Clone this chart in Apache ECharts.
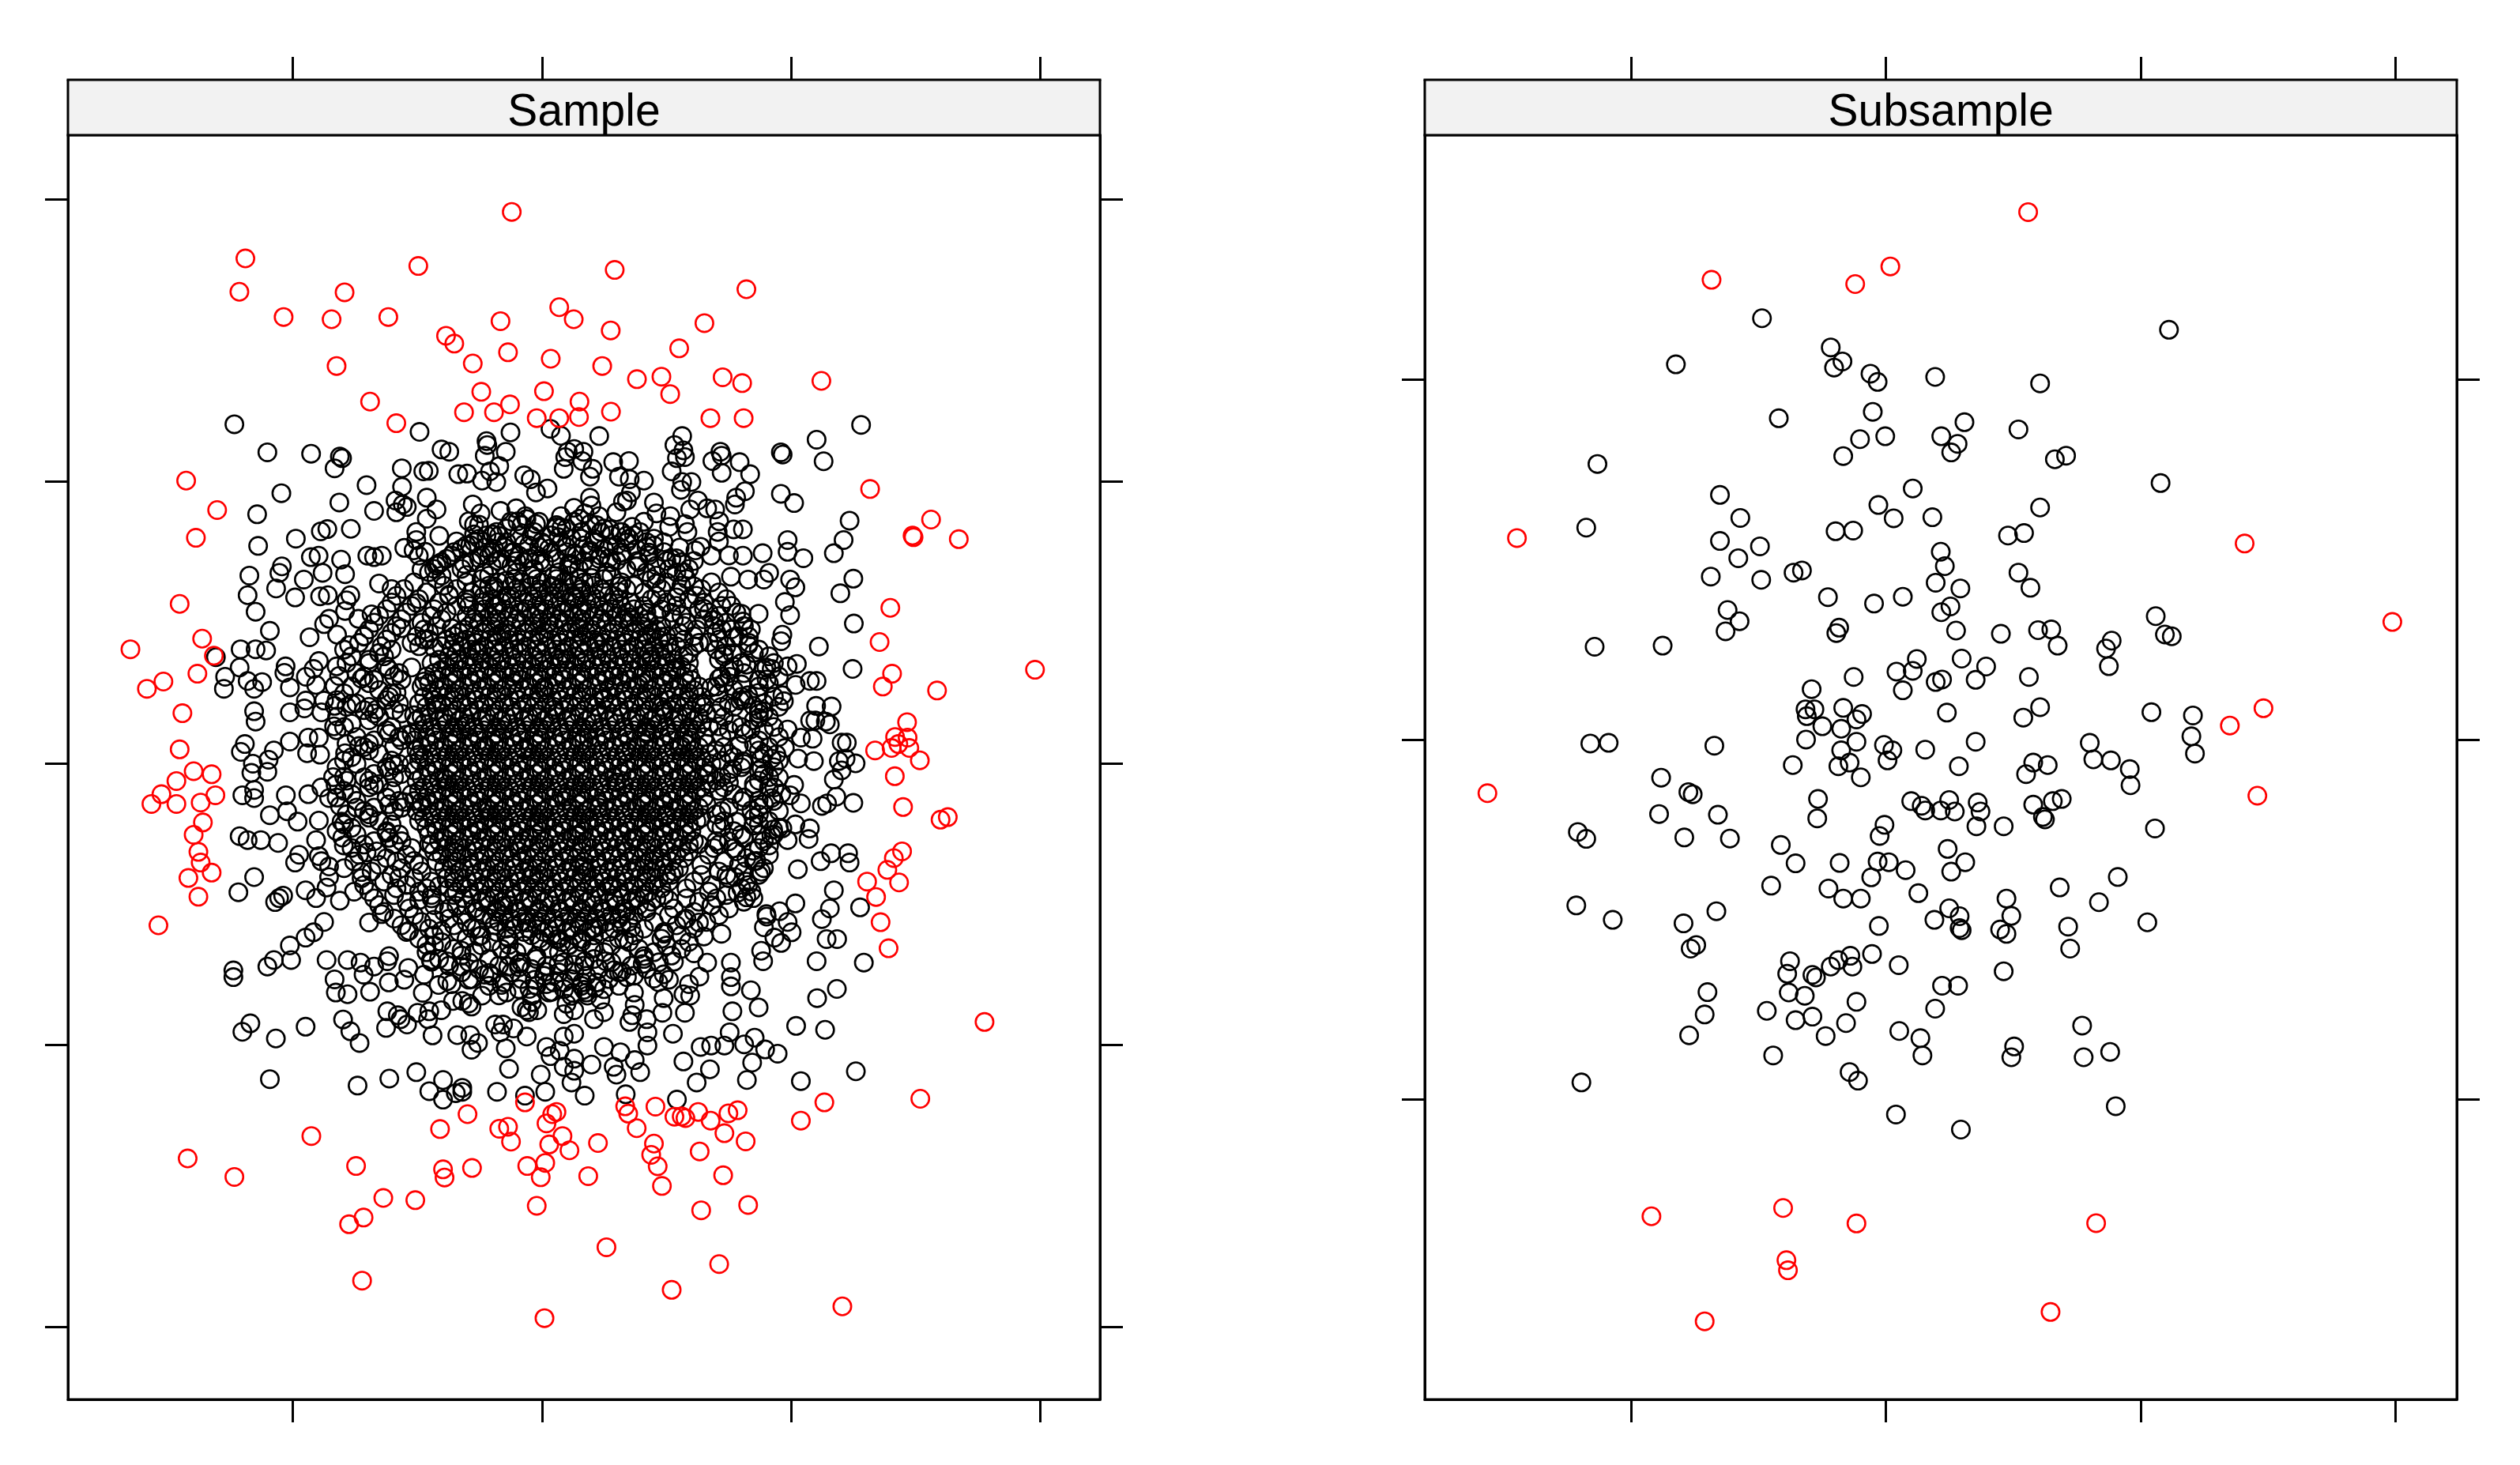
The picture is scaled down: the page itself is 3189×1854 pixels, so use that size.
<!DOCTYPE html>
<html>
<head>
<meta charset="utf-8">
<script src="https://cdn.jsdelivr.net/npm/echarts@6/dist/echarts.min.js"></script>
<style>html,body{margin:0;padding:0;background:#fff}#c{width:3189px;height:1854px}</style>
</head>
<body>
<div id="c"></div>
<script>
// tick positions (data units)
const sampleTicksX = [-1.005, -0.008, 0.989, 1.986];
const sampleTicksY = [-2.023, -1.017, -0.012, 0.994, 2];
const subTicksX = [-1, 0, 1, 2];
const subTicksY = [-1, 0, 1];

// Sample panel: points outside the ellipse (red)
const sampleOut = [
[-1.195,1.790],[-0.503,1.763],[-1.219,1.671],[-0.798,1.669],[-1.042,1.581],[-0.850,1.573],[-0.623,1.581],[-0.392,1.514],[-0.359,1.486],[-0.830,1.406],[-0.696,1.279],[-0.591,1.202],[-1.432,0.997],[-1.308,0.892],[-1.393,0.793],
[-0.129,1.956],[0.283,1.749],[0.810,1.680],[0.061,1.616],[0.119,1.573],[-0.174,1.566],[0.267,1.533],[0.642,1.559],[0.541,1.469],[-0.285,1.415],[-0.144,1.455],[0.027,1.432],[0.233,1.406],[0.372,1.359],[0.470,1.368],[0.505,1.306],[0.715,1.366],[0.793,1.345],[-0.251,1.314],[0.000,1.316],[-0.320,1.241],[-0.200,1.241],[-0.136,1.269],[-0.029,1.220],[0.061,1.220],[0.142,1.279],[0.140,1.224],[0.268,1.243],[0.666,1.220],[0.799,1.220],
[1.110,1.353],[1.305,0.967],[1.549,0.858],[1.475,0.801],[1.479,0.795],[1.660,0.788],
[1.386,0.543],[1.343,0.421],[1.393,0.308],[1.356,0.262],[1.573,0.248],[1.965,0.322],[1.453,0.135],[1.405,0.082],[1.455,0.080],[1.462,0.043],[1.391,0.043],[1.325,0.034],[1.418,0.057],[1.504,-0.001],[1.404,-0.058],[1.437,-0.168],[1.587,-0.213],[1.616,-0.204],[1.433,-0.326],[1.400,-0.350],[1.374,-0.392],[1.421,-0.437],[1.293,-0.434],[1.329,-0.489],[1.347,-0.579],[1.379,-0.672],
[-1.458,0.557],[-1.655,0.395],[-1.368,0.433],[-1.321,0.372],[-1.387,0.308],[-1.523,0.280],[-1.589,0.254],[-1.447,0.167],[-1.458,0.038],[-1.402,-0.040],[-1.330,-0.051],[-1.471,-0.075],[-1.531,-0.122],[-1.571,-0.157],[-1.471,-0.157],[-1.374,-0.152],[-1.315,-0.126],[-1.365,-0.223],[-1.402,-0.267],[-1.383,-0.328],[-1.374,-0.366],[-1.330,-0.402],[-1.423,-0.421],[-1.383,-0.488],[-1.543,-0.590],
[-0.931,-1.342],[-1.426,-1.422],[-1.239,-1.488],[-0.752,-1.449],[-0.416,-1.317],[-0.404,-1.461],[-0.398,-1.490],[-0.643,-1.563],[-0.515,-1.571],[-0.722,-1.633],[-0.780,-1.657],[-0.728,-1.858],
[-0.306,-1.264],[-0.076,-1.222],[-0.179,-1.316],[-0.144,-1.309],[-0.132,-1.362],[0.010,-1.297],[0.033,-1.264],[0.050,-1.256],[0.074,-1.342],[0.021,-1.372],[0.102,-1.393],[0.216,-1.367],[-0.067,-1.449],[0.005,-1.438],[-0.013,-1.489],[-0.288,-1.456],[0.177,-1.485],[-0.029,-1.591],[0.250,-1.739],[0.002,-1.992],[0.325,-1.236],[0.337,-1.262],[0.371,-1.314],[0.446,-1.237],[0.440,-1.369],[0.429,-1.409],[0.455,-1.450],[0.472,-1.520],[0.522,-1.273],[0.551,-1.272],[0.566,-1.278],[0.617,-1.256],[0.667,-1.287],[0.738,-1.261],[0.775,-1.250],[0.722,-1.332],[0.807,-1.361],[0.623,-1.397],[0.717,-1.482],[0.817,-1.588],[0.629,-1.607],[0.701,-1.799],[0.511,-1.891],[1.028,-1.287],
[1.763,-0.935],[1.506,-1.209],[1.122,-1.222],[1.194,-1.950]
];

// Sample panel: inner points (black), upper part
const sampleInTop = [
[-1.239,1.198],[-0.498,1.171],[-1.107,1.098],[-0.932,1.093],[-0.817,1.083],[-0.808,1.077],[-0.838,1.041],[-0.410,1.108],[-0.379,1.100],[-0.569,1.041],[-0.483,1.030],[-0.461,1.032],[-0.343,1.020],[-1.051,0.952],[-0.710,0.981],[-0.568,0.975],[-0.819,0.919],[-0.680,0.889],[-0.594,0.926],[-0.591,0.884],[-0.565,0.912],[-0.549,0.903],[-0.469,0.936],[-0.430,0.894],[-0.469,0.861],[-1.148,0.877],[-0.993,0.790],[-1.144,0.764],[-0.893,0.816],[-0.867,0.824],[-0.773,0.825],[-0.511,0.814],[-0.419,0.800],[-0.511,0.785],[-0.559,0.757],[-0.522,0.748],[-0.475,0.743],[-0.501,0.729],[-0.933,0.724],[-0.902,0.729],[-0.812,0.715],[-0.707,0.729],[-0.680,0.724],[-0.649,0.729],[-1.049,0.691],
[-0.134,1.169],[0.026,1.182],[0.068,1.157],[-0.230,1.138],[-0.227,1.124],[-0.153,1.100],[-0.237,1.086],[-0.179,1.049],[-0.216,1.030],[0.221,1.156],[0.095,1.100],[0.121,1.110],[0.158,1.100],[0.085,1.081],[0.153,1.067],[0.079,1.039],[0.195,1.039],[0.184,1.011],[0.277,1.063],[0.340,1.067],[0.300,1.011],[0.343,1.002],[0.400,0.997],[-0.308,1.022],[-0.248,0.997],[-0.191,0.992],[-0.079,1.016],[-0.053,1.002],[0.014,0.969],[-0.032,0.955],[0.553,1.156],[0.522,1.124],[0.558,1.105],[0.564,1.081],[0.532,1.077],[0.511,1.030],[0.706,1.100],[0.711,1.086],[0.674,1.067],[0.783,1.063],[0.711,1.025],[0.825,1.020],[0.948,1.098],[0.955,1.090],[0.553,0.992],[0.590,0.992],[0.548,0.964],[0.804,0.959],[0.769,0.936],[0.764,0.912],[0.948,0.950],[1.001,0.917],[0.616,0.926],[0.653,0.898],[0.685,0.894],[0.585,0.894],[0.440,0.919],[0.332,0.926],[0.316,0.922],[0.348,0.955],[0.290,0.884],[0.184,0.936],[0.190,0.908],[0.163,0.880],[-0.285,0.912],[-0.254,0.880],[-0.301,0.852],[-0.174,0.889],[-0.111,0.898],[-0.074,0.870],[-0.106,0.852],[-0.032,0.842],[-0.132,0.852],[0.068,0.870],[0.058,0.795],[0.142,0.861],[0.184,0.842],[0.227,0.814],[0.263,0.823],[0.306,0.814],[0.353,0.832],[0.384,0.814],[0.332,0.777],[0.152,0.814],[0.205,0.777],[0.506,0.870],[0.501,0.832],[0.564,0.842],[0.574,0.814],[0.701,0.852],[0.695,0.814],[0.759,0.823],[0.796,0.823],[0.479,0.777],[0.543,0.758],[0.627,0.761],[0.606,0.748],[0.669,0.729],[0.975,0.785],[0.975,0.743],[0.875,0.738],[0.796,0.729],[1.038,0.720],[-0.295,0.767],[-0.237,0.758],[-0.184,0.777],[-0.158,0.758],[-0.205,0.805],[-0.280,0.805],[-0.100,0.729],[-0.058,0.720],[-0.015,0.711],[-0.184,0.711],[0.121,0.738],[0.184,0.748],[0.227,0.729],[0.290,0.711],[0.374,0.711],
[-0.32,0.70],[-0.26,0.72],[-0.21,0.74],[-0.13,0.74],[-0.08,0.77],[-0.02,0.76],[0.03,0.74],[0.09,0.76],[0.10,0.70],[0.16,0.71],[0.26,0.76],[0.31,0.74],[0.42,0.74],[0.44,0.79],[0.53,0.72],[0.60,0.71],[0.05,0.83],[-0.05,0.80],[0.40,0.85],[0.45,0.88],[0.12,0.90],[-0.26,0.84],[0.70,0.78],[0.74,0.73],
[1.269,1.196],[1.091,1.143],[1.119,1.066],[1.223,0.854],[1.199,0.785],[1.160,0.738]
];

// Sample panel: inner points on the left and right flanks of the middle band
const sampleInFlank = [
[-1.179,0.658],[-1.186,0.588],[-1.154,0.529],[-1.097,0.461],[-1.072,0.612],[-1.059,0.668],[-0.996,0.580],[-0.961,0.644],[-0.886,0.668],[-0.896,0.584],[-0.865,0.588],[-0.796,0.663],[-0.775,0.588],[-0.938,0.438],[-0.880,0.485],[-0.860,0.504],[-0.828,0.447],[-0.796,0.532],[-0.743,0.504],[-1.214,0.395],[-1.154,0.395],[-1.112,0.391],[-1.313,0.367],[-1.218,0.330],[-1.276,0.297],[-1.281,0.254],[-1.186,0.282],[-1.160,0.254],[-1.128,0.278],[-1.034,0.334],[-1.039,0.311],[-0.901,0.353],[-0.922,0.325],[-0.953,0.297],[-1.017,0.259],[-0.912,0.268],[-0.838,0.264],[-0.953,0.212],[-0.880,0.212],[-0.838,0.193],[-1.160,0.174],[-1.154,0.137],[-1.017,0.170],[-0.959,0.184],[-0.891,0.170],[-0.828,0.155],[-1.197,0.057],[-1.213,0.029],[-1.165,-0.013],[-1.171,-0.046],[-1.102,0.001],[-1.081,0.034],[-1.107,-0.042],[-1.017,0.066],[-0.943,0.080],[-0.901,0.080],[-0.948,0.024],[-0.896,0.019],[-0.796,0.024],[-1.207,-0.126],[-1.160,-0.136],[-1.160,-0.107],[-1.097,-0.197],[-1.033,-0.126],[-1.028,-0.183],[-0.986,-0.220],[-0.943,-0.122],[-0.901,-0.216],[-0.891,-0.098],[-0.844,-0.061],[-0.834,-0.089],[-0.860,-0.136],[-0.817,-0.164],[-1.218,-0.272],[-1.186,-0.286],[-1.133,-0.286],[-1.064,-0.296],[-0.996,-0.366],[-0.980,-0.338],[-0.912,-0.286],[-0.901,-0.343],[-0.891,-0.361],[-0.807,-0.277],[-0.801,-0.305],[-1.160,-0.418],[-1.223,-0.472],[-1.076,-0.507],[-1.060,-0.493],[-1.044,-0.484],[-0.954,-0.465],[-0.912,-0.493],[-0.860,-0.418],[-0.870,-0.455],[-0.817,-0.502],[-0.880,-0.578],[-0.922,-0.615],[-0.954,-0.634],[-1.017,-0.662],
[0.748,0.654],[0.817,0.644],[0.880,0.644],[0.901,0.668],[0.985,0.644],[1.006,0.616],[0.964,0.564],[0.985,0.517],[0.954,0.447],[0.949,0.424],[0.859,0.522],[0.790,0.522],[0.828,0.466],[0.817,0.409],[0.759,0.437],[0.711,0.466],[0.754,0.381],[0.743,0.297],[0.669,0.259],[0.796,0.494],[0.911,0.325],[0.975,0.334],[1.012,0.343],[0.891,0.287],[1.007,0.268],[0.954,0.231],[0.859,0.240],[0.817,0.231],[0.785,0.212],[0.838,0.193],[0.880,0.174],[0.827,0.109],[0.975,0.109],[1.028,0.080],[0.964,0.043],[1.017,0.005],[0.911,0.005],[0.869,0.005],[0.796,-0.004],[0.754,-0.032],[0.901,-0.061],[0.922,-0.098],[0.859,-0.145],[0.911,-0.136],[1.001,-0.089],[1.028,-0.155],[0.985,-0.126],[0.838,-0.234],[0.869,-0.267],[0.917,-0.248],[0.954,-0.244],[1.006,-0.230],[0.975,-0.286],[0.838,-0.324],[0.901,-0.305],[0.759,-0.315],[1.016,-0.390],[0.869,-0.399],[0.764,-0.418],[0.817,-0.446],[0.775,-0.474],[0.838,-0.493],[1.006,-0.512],[0.891,-0.559],[0.943,-0.540],[0.975,-0.578],[0.880,-0.597],[0.922,-0.634],[0.949,-0.653],[0.991,-0.615],[0.869,-0.681],
[1.238,0.647],[1.186,0.595],[1.240,0.487],[1.100,0.405],[1.235,0.325],[1.091,0.282],[1.064,0.282],[1.089,0.193],[1.151,0.191],[1.086,0.141],[1.128,0.137],[1.144,0.127],[1.065,0.141],[1.075,0.076],[1.191,0.062],[1.212,0.062],[1.080,-0.004],[1.180,-0.004],[1.207,0.005],[1.247,-0.012],[1.191,-0.037],[1.160,-0.070],[1.170,-0.131],[1.238,-0.153],[1.112,-0.164],[1.133,-0.155],[1.064,-0.244],[1.059,-0.282],[1.149,-0.333],[1.107,-0.361],[1.217,-0.333],[1.223,-0.366],[1.160,-0.465],[1.144,-0.530],[1.265,-0.526],[1.112,-0.568],[1.131,-0.639],[1.173,-0.639]
];

// Sample panel: scattered points around the edge of the dense centre and within it
const sampleInFill = [
[-0.84,0.12],[-0.81,-0.22],[-0.78,0.41],[-0.76,-0.47],[-0.74,0.05],[-0.73,0.29],[-0.71,-0.33],[-0.69,0.52],[-0.68,-0.09],[-0.67,0.18],[-0.65,-0.55],[-0.64,0.37],[-0.63,-0.26],[-0.61,0.61],[-0.60,-0.02],[-0.59,0.24],[-0.58,-0.42],[-0.57,0.47],[-0.56,-0.15],[-0.55,0.09],[-0.54,-0.61],[-0.53,0.33],[-0.52,-0.36],[-0.51,0.56],[-0.50,-0.50],[-0.49,0.68],[-0.47,-0.66],[-0.46,0.43],[-0.44,-0.57],[-0.82,0.30],[-0.80,-0.06],[-0.77,0.20],[-0.75,-0.17],[-0.72,0.44],[-0.70,-0.58],[-0.66,0.63],[-0.62,-0.70],[-0.86,-0.38],[-0.79,0.57],[-0.73,-0.40],
[-0.42,0.70],[-0.38,0.59],[-0.35,0.78],[-0.31,0.66],[-0.28,0.84],[-0.25,0.61],[-0.22,0.73],[-0.18,0.80],[-0.15,0.64],[-0.11,0.71],[-0.07,0.86],[-0.04,0.68],[0.00,0.77],[0.04,0.62],[0.07,0.83],[0.11,0.70],[0.15,0.79],[0.19,0.65],[0.22,0.87],[0.26,0.72],[0.30,0.62],[0.33,0.80],[0.37,0.69],[0.41,0.76],[0.45,0.63],[0.49,0.71],[0.53,0.58],[0.56,0.67],[0.60,0.62],[0.64,0.54],
[0.68,0.50],[0.72,0.38],[0.75,0.55],[0.79,0.27],[0.82,0.44],[0.86,0.15],[0.89,0.33],[0.93,0.02],[0.96,0.21],[0.70,0.12],[0.74,-0.08],[0.78,0.05],[0.83,-0.18],[0.87,-0.03],[0.91,-0.27],[0.95,-0.12],[0.69,-0.29],[0.73,-0.41],[0.77,-0.22],[0.81,-0.49],[0.85,-0.36],[0.89,-0.55],[0.67,-0.52],[0.71,-0.62],[0.62,-0.58],[0.66,0.42],[0.70,0.29],[0.76,0.19],[0.81,0.34],[0.84,-0.10],
[-0.45,-0.72],[-0.41,-0.61],[-0.37,-0.80],[-0.33,-0.68],[-0.29,-0.88],[-0.26,-0.63],[-0.22,-0.76],[-0.18,-0.84],[-0.14,-0.66],[-0.10,-0.74],[-0.06,-0.90],[-0.03,-0.70],[0.01,-0.80],[0.05,-0.64],[0.09,-0.87],[0.12,-0.73],[0.16,-0.82],[0.20,-0.67],[0.24,-0.90],[0.28,-0.75],[0.32,-0.64],[0.36,-0.83],[0.40,-0.70],[0.44,-0.78],[0.48,-0.62],[0.52,-0.72],[0.56,-0.57],[0.60,-0.69],[0.64,-0.63],[0.58,-0.80],
[-0.48,0.28],[-0.46,-0.30],[-0.50,0.02],[-0.44,0.40],[-0.42,-0.45],[-0.30,0.55],[-0.20,0.62],[0.30,0.60],[0.45,0.52],[0.58,0.38],[0.63,0.20],[0.66,-0.05],[0.62,-0.30],[0.50,-0.50],[0.35,-0.60],[0.10,-0.66],[-0.15,-0.63],[-0.35,-0.52],[-0.49,-0.15],[-0.52,0.16],
[-0.31,0.12],[-0.22,-0.18],[-0.12,0.31],[-0.05,-0.41],[0.04,0.18],[0.13,-0.27],[0.21,0.42],[0.29,-0.08],[0.38,0.27],[0.44,-0.36],[-0.39,-0.07],[-0.27,0.39],[-0.16,-0.52],[-0.08,0.04],[0.02,0.49],[0.09,-0.13],[0.18,0.08],[0.26,-0.45],[0.34,0.51],[0.41,0.10],[0.49,-0.20],[0.53,0.33],[-0.43,0.20],[-0.35,-0.33],[-0.24,0.05],[-0.14,0.45],[-0.02,-0.22],[0.07,0.36],[0.16,-0.38],[0.24,0.22],[0.31,-0.55],[0.39,-0.15],[0.47,0.44],[0.55,0.05],[-0.29,-0.60],[-0.19,0.55],[-0.09,-0.30],[0.00,0.26],[0.12,0.58],[0.20,-0.60],[0.28,0.30],[0.36,-0.28],[0.43,0.37],[0.51,-0.41],[-0.37,0.47],[-0.26,-0.25],[-0.17,0.14],[-0.07,-0.58],[0.05,-0.05],[0.14,0.47],[0.22,-0.17],[0.33,0.03],[0.40,-0.48],[0.48,0.18]
];

// Sample panel: dense centre, estimated row by row: [y, x, x, ...]
const sampleCoreRows = [
[0.85,-0.02,0.12],
[0.838,-0.09,0.05,0.21],
[0.826,-0.15,0.09,0.24],
[0.814,-0.19,-0.04,0.15,0.31],
[0.802,-0.23,-0.10,0.03,0.27,0.36],
[0.79,-0.26,0.11,0.20,0.34],
[0.778,-0.28,-0.15,-0.01,0.07,0.41],
[0.766,-0.31,-0.06,0.16,0.29,0.44],
[0.754,-0.33,-0.20,0.02,0.24,0.37],
[0.742,-0.36,-0.12,0.09,0.18,0.48],
[0.73,-0.37,-0.25,-0.03,0.13,0.31,0.42],
[0.718,-0.39,-0.17,0.05,0.22,0.51],
[0.706,-0.41,-0.29,-0.08,0.00,0.27,0.38,0.55],
[0.694,-0.43,-0.21,-0.13,0.10,0.19,0.45],
[0.682,-0.44,-0.33,-0.04,0.14,0.33,0.50,0.58],
[0.67,-0.46,-0.24,-0.11,0.06,0.25,0.41,0.53],
[0.658,-0.41,-0.22,-0.05,0.04,0.10,0.27,0.45],
[0.646,-0.43,-0.25,-0.12,-0.03,0.05,0.14,0.24,0.43,0.57],
[0.634,-0.52,-0.31,-0.18,-0.09,-0.01,0.08,0.16,0.31,0.49,0.67],
[0.622,-0.40,-0.22,-0.13,-0.05,0.03,0.12,0.20,0.36,0.55],
[0.61,-0.56,-0.35,-0.20,-0.11,-0.02,0.06,0.15,0.23,0.33,0.47,0.63],
[0.598,-0.47,-0.29,-0.10,-0.02,0.07,0.15,0.24,0.40,0.54,0.70],
[0.586,-0.59,-0.38,-0.24,-0.15,-0.06,0.02,0.11,0.19,0.28,0.45,0.61],
[0.574,-0.50,-0.31,-0.21,-0.13,-0.04,0.04,0.13,0.21,0.30,0.43,0.58,0.73],
[0.562,-0.61,-0.42,-0.31,-0.25,-0.17,-0.08,0.00,0.09,0.17,0.26,0.35,0.49,0.64],
[0.55,-0.53,-0.35,-0.20,-0.12,-0.03,0.05,0.14,0.22,0.31,0.40,0.53,0.71],
[0.538,-0.63,-0.44,-0.24,-0.16,-0.07,0.01,0.10,0.18,0.27,0.36,0.47,0.62],
[0.526,-0.55,-0.39,-0.27,-0.19,-0.10,-0.02,0.07,0.15,0.24,0.33,0.41,0.51,0.66,0.77],
[0.514,-0.66,-0.45,-0.31,-0.22,-0.14,-0.05,0.03,0.12,0.20,0.29,0.38,0.55,0.70],
[0.502,-0.57,-0.41,-0.28,-0.19,-0.11,-0.02,0.06,0.15,0.23,0.32,0.41,0.52,0.64],
[0.49,-0.68,-0.49,-0.26,-0.18,-0.09,-0.01,0.08,0.16,0.25,0.34,0.42,0.57,0.73],
[0.478,-0.59,-0.43,-0.30,-0.21,-0.13,-0.04,0.04,0.13,0.21,0.30,0.39,0.47,0.56,0.68,0.80],
[0.466,-0.70,-0.48,-0.32,-0.23,-0.15,-0.06,0.02,0.11,0.19,0.28,0.37,0.45,0.61,0.75],
[0.454,-0.61,-0.46,-0.34,-0.25,-0.17,-0.08,0.00,0.09,0.17,0.26,0.35,0.43,0.54,0.69],
[0.442,-0.72,-0.51,-0.36,-0.28,-0.19,-0.11,-0.02,0.06,0.15,0.23,0.32,0.41,0.49,0.60,0.78],
[0.43,-0.63,-0.48,-0.39,-0.31,-0.22,-0.14,-0.05,0.03,0.12,0.20,0.29,0.38,0.46,0.56,0.70],
[0.418,-0.74,-0.53,-0.36,-0.27,-0.19,-0.10,-0.02,0.07,0.15,0.24,0.33,0.41,0.50,0.62,0.82],
[0.406,-0.65,-0.50,-0.41,-0.33,-0.24,-0.16,-0.07,0.01,0.10,0.18,0.27,0.36,0.44,0.53,0.60,0.73],
[0.394,-0.80,-0.61,-0.37,-0.29,-0.20,-0.12,-0.03,0.05,0.14,0.22,0.31,0.40,0.48,0.69,0.86],
[0.382,-0.66,-0.35,-0.26,-0.18,-0.09,-0.01,0.08,0.16,0.25,0.34,0.42,0.51,0.84],
[0.37,-0.77,-0.38,-0.30,-0.21,-0.13,-0.04,0.04,0.13,0.21,0.30,0.39,0.47,0.56,0.72,0.90],
[0.358,-0.70,-0.42,-0.34,-0.25,-0.17,-0.08,0.00,0.09,0.17,0.26,0.35,0.43,0.52,0.70],
[0.346,-0.79,-0.70,-0.45,-0.36,-0.28,-0.19,-0.11,-0.02,0.06,0.15,0.23,0.32,0.41,0.49,0.58,0.79,0.92],
[0.334,-0.83,-0.63,-0.39,-0.31,-0.22,-0.14,-0.05,0.03,0.12,0.20,0.29,0.38,0.46,0.55,0.76],
[0.322,-0.62,-0.41,-0.33,-0.24,-0.16,-0.07,0.01,0.10,0.18,0.27,0.36,0.44,0.53,0.74,0.88],
[0.31,-0.75,-0.58,-0.44,-0.36,-0.27,-0.19,-0.10,-0.02,0.07,0.15,0.24,0.33,0.41,0.50,0.58,0.80],
[0.298,-0.72,-0.60,-0.47,-0.38,-0.30,-0.21,-0.13,-0.04,0.04,0.13,0.21,0.30,0.39,0.47,0.56,0.71,0.94],
[0.286,-0.68,-0.57,-0.43,-0.35,-0.26,-0.18,-0.09,-0.01,0.08,0.16,0.25,0.34,0.42,0.51,0.59,0.86],
[0.274,-0.70,-0.46,-0.37,-0.29,-0.20,-0.12,-0.03,0.05,0.14,0.22,0.31,0.40,0.48,0.57,0.72,0.90],
[0.262,-0.77,-0.49,-0.40,-0.32,-0.23,-0.15,-0.06,0.02,0.11,0.19,0.28,0.37,0.45,0.54,0.62,0.69,0.86],
[0.25,-0.66,-0.42,-0.34,-0.25,-0.17,-0.08,0.00,0.09,0.17,0.26,0.35,0.43,0.52,0.60,0.76],
[0.238,-0.80,-0.61,-0.45,-0.36,-0.28,-0.19,-0.11,-0.02,0.06,0.15,0.23,0.32,0.41,0.49,0.58,0.70],
[0.226,-0.62,-0.48,-0.39,-0.31,-0.22,-0.14,-0.05,0.03,0.12,0.20,0.29,0.38,0.46,0.55,0.63,0.79,0.92],
[0.214,-0.83,-0.63,-0.44,-0.36,-0.27,-0.19,-0.10,-0.02,0.07,0.15,0.24,0.33,0.41,0.50,0.58,0.80],
[0.202,-0.75,-0.58,-0.50,-0.41,-0.33,-0.24,-0.16,-0.07,0.01,0.10,0.18,0.27,0.36,0.44,0.53,0.61,0.74,0.88],
[0.19,-0.79,-0.70,-0.47,-0.38,-0.30,-0.21,-0.13,-0.04,0.04,0.13,0.21,0.30,0.39,0.47,0.56,0.64,0.71,0.94],
[0.178,-0.72,-0.60,-0.43,-0.35,-0.26,-0.18,-0.09,-0.01,0.08,0.16,0.25,0.34,0.42,0.51,0.59,0.86],
[0.166,-0.68,-0.57,-0.46,-0.37,-0.29,-0.20,-0.12,-0.03,0.05,0.14,0.22,0.31,0.40,0.48,0.57,0.65,0.69,0.86],
[0.154,-0.66,-0.49,-0.40,-0.32,-0.23,-0.15,-0.06,0.02,0.11,0.19,0.28,0.37,0.45,0.54,0.62,0.72,0.90],
[0.142,-0.70,-0.51,-0.42,-0.34,-0.25,-0.17,-0.08,0.00,0.09,0.17,0.26,0.35,0.43,0.52,0.60,0.84],
[0.13,-0.77,-0.48,-0.39,-0.31,-0.22,-0.14,-0.05,0.03,0.12,0.20,0.29,0.38,0.46,0.55,0.63,0.76],
[0.118,-0.80,-0.61,-0.45,-0.36,-0.28,-0.19,-0.11,-0.02,0.06,0.15,0.23,0.32,0.41,0.49,0.58,0.66,0.79,0.92],
[0.106,-0.83,-0.63,-0.50,-0.41,-0.33,-0.24,-0.16,-0.07,0.01,0.10,0.18,0.27,0.36,0.44,0.53,0.61,0.74,0.88],
[0.094,-0.62,-0.53,-0.44,-0.36,-0.27,-0.19,-0.10,-0.02,0.07,0.15,0.24,0.33,0.41,0.50,0.58,0.80],
[0.082,-0.75,-0.58,-0.47,-0.38,-0.30,-0.21,-0.13,-0.04,0.04,0.13,0.21,0.30,0.39,0.47,0.56,0.64,0.71,0.94],
[0.07,-0.68,-0.57,-0.52,-0.43,-0.35,-0.26,-0.18,-0.09,-0.01,0.08,0.16,0.25,0.34,0.42,0.51,0.59,0.86],
[0.058,-0.79,-0.70,-0.46,-0.37,-0.29,-0.20,-0.12,-0.03,0.05,0.14,0.22,0.31,0.40,0.48,0.57,0.65,0.84],
[0.046,-0.72,-0.60,-0.49,-0.40,-0.32,-0.23,-0.15,-0.06,0.02,0.11,0.19,0.28,0.37,0.45,0.54,0.62,0.72,0.90],
[0.034,-0.70,-0.51,-0.42,-0.34,-0.25,-0.17,-0.08,0.00,0.09,0.17,0.26,0.35,0.43,0.52,0.60,0.69,0.86],
[0.022,-0.66,-0.45,-0.36,-0.28,-0.19,-0.11,-0.02,0.06,0.15,0.23,0.32,0.41,0.49,0.58,0.66,0.74,0.88],
[0.01,-0.77,-0.48,-0.39,-0.31,-0.22,-0.14,-0.05,0.03,0.12,0.20,0.29,0.38,0.46,0.55,0.63,0.76],
[-0.002,-0.80,-0.61,-0.50,-0.41,-0.33,-0.24,-0.16,-0.07,0.01,0.10,0.18,0.27,0.36,0.44,0.53,0.61,0.71,0.94],
[-0.014,-0.75,-0.58,-0.53,-0.44,-0.36,-0.27,-0.19,-0.10,-0.02,0.07,0.15,0.24,0.33,0.41,0.50,0.58,0.67,0.80],
[-0.026,-0.83,-0.63,-0.47,-0.38,-0.30,-0.21,-0.13,-0.04,0.04,0.13,0.21,0.30,0.39,0.47,0.56,0.64,0.79,0.92],
[-0.038,-0.62,-0.52,-0.43,-0.35,-0.26,-0.18,-0.09,-0.01,0.08,0.16,0.25,0.34,0.42,0.51,0.59,0.86],
[-0.05,-0.68,-0.57,-0.46,-0.37,-0.29,-0.20,-0.12,-0.03,0.05,0.14,0.22,0.31,0.40,0.48,0.57,0.65,0.74,0.88],
[-0.062,-0.72,-0.60,-0.49,-0.40,-0.32,-0.23,-0.15,-0.06,0.02,0.11,0.19,0.28,0.37,0.45,0.54,0.62,0.71,0.94],
[-0.074,-0.79,-0.70,-0.51,-0.42,-0.34,-0.25,-0.17,-0.08,0.00,0.09,0.17,0.26,0.35,0.43,0.52,0.60,0.69,0.86],
[-0.086,-0.66,-0.45,-0.36,-0.28,-0.19,-0.11,-0.02,0.06,0.15,0.23,0.32,0.41,0.49,0.58,0.66,0.84],
[-0.098,-0.70,-0.48,-0.39,-0.31,-0.22,-0.14,-0.05,0.03,0.12,0.20,0.29,0.38,0.46,0.55,0.63,0.72,0.90],
[-0.11,-0.80,-0.61,-0.50,-0.41,-0.33,-0.24,-0.16,-0.07,0.01,0.10,0.18,0.27,0.36,0.44,0.53,0.61,0.70],
[-0.122,-0.77,-0.53,-0.44,-0.36,-0.27,-0.19,-0.10,-0.02,0.07,0.15,0.24,0.33,0.41,0.50,0.58,0.76],
[-0.134,-0.83,-0.63,-0.47,-0.38,-0.30,-0.21,-0.13,-0.04,0.04,0.13,0.21,0.30,0.39,0.47,0.56,0.64,0.80],
[-0.146,-0.75,-0.58,-0.52,-0.43,-0.35,-0.26,-0.18,-0.09,-0.01,0.08,0.16,0.25,0.34,0.42,0.51,0.59,0.79,0.92],
[-0.158,-0.62,-0.46,-0.37,-0.29,-0.20,-0.12,-0.03,0.05,0.14,0.22,0.31,0.40,0.48,0.57,0.65,0.88],
[-0.17,-0.68,-0.57,-0.49,-0.40,-0.32,-0.23,-0.15,-0.06,0.02,0.11,0.19,0.28,0.37,0.45,0.54,0.62,0.74,0.86],
[-0.182,-0.72,-0.60,-0.51,-0.42,-0.34,-0.25,-0.17,-0.08,0.00,0.09,0.17,0.26,0.35,0.43,0.52,0.60,0.71,0.94],
[-0.194,-0.79,-0.70,-0.45,-0.36,-0.28,-0.19,-0.11,-0.02,0.06,0.15,0.23,0.32,0.41,0.49,0.58,0.69,0.86],
[-0.206,-0.70,-0.48,-0.39,-0.31,-0.22,-0.14,-0.05,0.03,0.12,0.20,0.29,0.38,0.46,0.55,0.63,0.84],
[-0.218,-0.66,-0.50,-0.41,-0.33,-0.24,-0.16,-0.07,0.01,0.10,0.18,0.27,0.36,0.44,0.53,0.61,0.72,0.90],
[-0.23,-0.80,-0.61,-0.44,-0.36,-0.27,-0.19,-0.10,-0.02,0.07,0.15,0.24,0.33,0.41,0.50,0.58,0.69,0.86],
[-0.242,-0.77,-0.47,-0.38,-0.30,-0.21,-0.13,-0.04,0.04,0.13,0.21,0.30,0.39,0.47,0.56,0.71,0.94],
[-0.254,-0.83,-0.63,-0.43,-0.35,-0.26,-0.18,-0.09,-0.01,0.08,0.16,0.25,0.34,0.42,0.51,0.59,0.76],
[-0.266,-0.75,-0.58,-0.46,-0.37,-0.29,-0.20,-0.12,-0.03,0.05,0.14,0.22,0.31,0.40,0.48,0.57,0.79,0.92],
[-0.278,-0.62,-0.40,-0.32,-0.23,-0.15,-0.06,0.02,0.11,0.19,0.28,0.37,0.45,0.54,0.80],
[-0.29,-0.68,-0.57,-0.42,-0.34,-0.25,-0.17,-0.08,0.00,0.09,0.17,0.26,0.35,0.43,0.52,0.60,0.74,0.88],
[-0.302,-0.72,-0.60,-0.45,-0.36,-0.28,-0.19,-0.11,-0.02,0.06,0.15,0.23,0.32,0.41,0.49,0.58,0.70],
[-0.314,-0.77,-0.53,-0.39,-0.31,-0.22,-0.14,-0.05,0.03,0.12,0.20,0.29,0.38,0.46,0.55,0.68,0.86],
[-0.326,-0.67,-0.44,-0.36,-0.27,-0.19,-0.10,-0.02,0.07,0.15,0.24,0.33,0.41,0.50,0.58,0.77],
[-0.338,-0.74,-0.55,-0.41,-0.33,-0.24,-0.16,-0.07,0.01,0.10,0.18,0.27,0.36,0.44,0.53,0.66,0.90],
[-0.35,-0.63,-0.38,-0.30,-0.21,-0.13,-0.04,0.04,0.13,0.21,0.30,0.39,0.47,0.56,0.81],
[-0.362,-0.76,-0.59,-0.43,-0.35,-0.26,-0.18,-0.09,-0.01,0.08,0.16,0.25,0.34,0.42,0.51,0.72,0.84],
[-0.374,-0.66,-0.50,-0.37,-0.29,-0.20,-0.12,-0.03,0.05,0.14,0.22,0.31,0.40,0.48,0.63,0.78],
[-0.386,-0.80,-0.57,-0.40,-0.32,-0.23,-0.15,-0.06,0.02,0.11,0.19,0.28,0.37,0.45,0.54,0.88],
[-0.398,-0.69,-0.49,-0.34,-0.25,-0.17,-0.08,0.00,0.09,0.17,0.26,0.35,0.43,0.52,0.70,0.80],
[-0.41,-0.61,-0.36,-0.28,-0.19,-0.11,-0.02,0.06,0.15,0.23,0.32,0.41,0.49,0.63,0.86],
[-0.422,-0.73,-0.52,-0.39,-0.31,-0.22,-0.14,-0.05,0.03,0.12,0.20,0.29,0.38,0.46,0.74],
[-0.434,-0.64,-0.45,-0.36,-0.27,-0.19,-0.10,-0.02,0.07,0.15,0.24,0.33,0.41,0.50,0.60,0.81],
[-0.446,-0.72,-0.55,-0.33,-0.24,-0.16,-0.07,0.01,0.10,0.18,0.27,0.36,0.44,0.67],
[-0.458,-0.59,-0.47,-0.38,-0.30,-0.21,-0.13,-0.04,0.04,0.13,0.21,0.30,0.39,0.47,0.57,0.79],
[-0.47,-0.70,-0.50,-0.35,-0.26,-0.18,-0.09,-0.01,0.08,0.16,0.25,0.34,0.42,0.66,0.83],
[-0.482,-0.60,-0.45,-0.36,-0.29,-0.20,-0.12,-0.03,0.05,0.14,0.22,0.31,0.40,0.48,0.73],
[-0.494,-0.68,-0.45,-0.32,-0.23,-0.15,-0.06,0.02,0.11,0.19,0.28,0.37,0.45,0.57,0.69],
[-0.506,-0.55,-0.25,-0.17,-0.08,0.00,0.09,0.17,0.26,0.35,0.43,0.62,0.80],
[-0.518,-0.66,-0.44,-0.31,-0.22,-0.14,-0.05,0.03,0.12,0.20,0.29,0.38,0.67],
[-0.53,-0.54,-0.38,-0.28,-0.19,-0.11,-0.02,0.06,0.15,0.23,0.32,0.41,0.52,0.74],
[-0.542,-0.64,-0.40,-0.27,-0.19,-0.10,-0.02,0.07,0.15,0.24,0.33,0.41,0.60],
[-0.554,-0.52,-0.33,-0.24,-0.16,-0.07,0.01,0.10,0.18,0.27,0.36,0.50,0.70],
[-0.566,-0.60,-0.38,-0.21,-0.13,-0.04,0.04,0.13,0.21,0.30,0.57],
[-0.578,-0.49,-0.31,-0.18,-0.09,-0.01,0.08,0.16,0.25,0.34,0.44,0.65],
[-0.59,-0.57,-0.36,-0.20,-0.12,-0.03,0.05,0.14,0.22,0.31,0.53],
[-0.602,-0.46,-0.27,-0.15,-0.06,0.02,0.11,0.19,0.28,0.40,0.60],
[-0.614,-0.55,-0.34,-0.19,-0.08,0.00,0.09,0.17,0.26,0.48],
[-0.626,-0.44,-0.25,-0.05,0.03,0.12,0.20,0.36,0.55],
[-0.638,-0.50,-0.31,-0.14,-0.02,0.06,0.15,0.30,0.47],
[-0.65,-0.41,-0.21,-0.01,0.07,0.15,0.34,0.58],
[-0.662,-0.44,-0.25,-0.08,0.10,0.27,0.49],
[-0.674,-0.36,-0.17,0.02,0.19,0.38,0.55],
[-0.686,-0.47,-0.28,-0.11,0.06,0.24,0.44],
[-0.698,-0.33,-0.14,0.13,0.31,0.51],
[-0.71,-0.42,-0.22,-0.03,0.20,0.40],
[-0.722,-0.30,-0.09,0.08,0.27,0.46],
[-0.734,-0.38,-0.18,0.01,0.16,0.35],
[-0.746,-0.26,-0.05,0.22,0.41],
[-0.758,-0.33,-0.13,0.06,0.30],
[-0.77,-0.21,0.00,0.17,0.36],
[-0.782,-0.29,-0.09,0.11,0.26],
[-0.794,-0.16,0.04,0.21],
[-0.806,-0.22,-0.03,0.15,0.30],
[-0.818,-0.10,0.08,0.24],
[-0.83,-0.15,0.02,0.17],
[-0.842,-0.05,0.11]
];

// Sample panel: inner points, lower part
const sampleInBottom = [
[-1.243,-0.751],[-1.243,-0.775],[-1.107,-0.737],[-1.081,-0.714],[-1.012,-0.714],[-0.870,-0.714],[-0.838,-0.783],[-0.833,-0.830],[-0.786,-0.836],[-0.696,-0.827],[-0.722,-0.766],[-0.680,-0.737],[-0.621,-0.794],[-0.627,-0.718],[-0.559,-0.784],[-0.543,-0.742],[-0.485,-0.831],[-0.480,-0.766],[-0.422,-0.803],[-0.387,-0.789],[-0.364,-0.860],[-0.453,-0.714],[-0.386,-0.719],[-0.786,-0.714],[-0.734,-0.723],
[-1.175,-0.940],[-1.207,-0.970],[-1.073,-0.994],[-0.954,-0.952],[-0.804,-0.926],[-0.775,-0.968],[-0.738,-1.010],[-0.627,-0.897],[-0.632,-0.956],[-0.585,-0.911],[-0.574,-0.925],[-0.548,-0.944],[-0.506,-0.902],[-0.459,-0.897],[-0.411,-0.893],[-0.464,-0.925],[-0.446,-0.983],[-0.347,-0.982],
[-1.097,-1.139],[-0.746,-1.162],[-0.619,-1.137],[-0.511,-1.114],[-0.404,-1.142],[-0.459,-1.182],[-0.404,-1.212],[-0.353,-1.189],
[-0.327,-1.184],[-0.327,-1.170],[-0.188,-1.184],[-0.076,-1.198],[0.005,-1.184],[0.163,-1.198],[0.327,-1.193],[0.532,-1.212],[-0.140,-1.102],[-0.013,-1.123],[0.110,-1.151],[0.121,-1.109],[0.079,-1.095],[0.190,-1.087],[0.279,-1.095],[0.290,-1.123],[0.385,-1.114],[0.363,-1.071],[0.306,-1.043],[0.240,-1.024],[0.010,-1.024],[0.026,-1.057],[0.063,-1.038],[0.121,-1.066],[0.079,-0.987],[0.121,-0.977],[-0.069,-0.987],[-0.153,-1.029],[-0.295,-0.982],[-0.264,-1.010],[-0.290,-1.034],[-0.164,-0.944],[-0.174,-0.972],[-0.122,-0.958],[-0.069,-0.893],[-0.027,-0.893],[0.079,-0.907],[0.121,-0.893],[0.200,-0.925],[0.226,-0.855],[0.205,-0.813],[0.342,-0.935],[0.353,-0.911],[0.363,-0.874],[0.411,-0.925],[0.414,-0.972],[0.414,-1.019],[0.516,-0.977],[0.474,-0.902],[0.564,-0.902],[0.558,-0.836],[0.585,-0.841],[0.622,-0.773],[0.479,-0.850],[0.479,-0.765],[0.500,-0.784],[0.458,-0.793],[0.311,-0.756],[0.332,-0.775],[0.395,-0.728],[0.653,-0.723],[0.748,-0.723],[0.748,-0.775],[0.748,-0.808],[0.828,-0.822],[0.859,-0.883],[0.754,-0.897],[0.877,-0.718],[0.558,-1.076],[0.611,-1.151],[0.664,-1.104],[0.627,-1.024],[0.669,-1.019],[0.722,-1.019],[0.743,-0.972],[0.801,-1.015],[0.843,-0.991],[0.885,-1.033],[0.833,-1.080],[0.812,-1.142],[0.935,-1.048],[1.009,-0.949],[1.028,-1.146],[-0.301,-0.784],[-0.248,-0.841],[-0.170,-0.803],[-0.238,-0.766],[-0.143,-0.737],[-0.327,-0.860],[-0.301,-0.869],[-0.058,-0.817],[-0.048,-0.864],[0.031,-0.827],[0.116,-0.831],[0.079,-0.794],[0.005,-0.756],[0.121,-0.756],[0.163,-0.718],[0.058,-0.728],[-0.100,-0.728],[-0.037,-0.784],[-0.090,-0.883],[-0.195,-0.944],[-0.332,-0.737],[0.174,-0.841],[0.153,-0.794],[0.247,-0.718],
[1.091,-0.718],[1.280,-0.723],[1.172,-0.817],[1.093,-0.850],[1.125,-0.963],[1.248,-1.111]
];

// Subsample panel
const subOut = [
[0.558,1.466],[-0.685,1.278],[-0.121,1.266],[0.017,1.315],[-1.449,0.560],[1.408,0.545],[1.988,0.327],[1.350,0.039],[1.482,0.087],
[-1.565,-0.149],[1.458,-0.156],[-0.921,-1.325],[-0.404,-1.302],[-0.116,-1.345],[0.825,-1.344],[-0.391,-1.447],[-0.385,-1.475],[-0.712,-1.617],[0.646,-1.591]
];
const subIn = [
[-0.487,1.171],[1.111,1.139],[-0.217,1.090],[-0.171,1.051],[-0.204,1.034],[-0.825,1.043],[-0.061,1.017],[-0.033,0.994],[0.193,1.008],[0.605,0.990],[-0.052,0.911],[-0.421,0.893],[0.308,0.882],[0.520,0.862],[-0.102,0.835],[-0.003,0.843],[0.217,0.843],[0.281,0.822],[0.256,0.798],[-0.168,0.788],[0.663,0.779],[0.707,0.789],[-1.133,0.766],[1.078,0.713],[0.105,0.698],[-0.652,0.680],[-0.030,0.652],[0.605,0.645],[-0.572,0.616],[0.030,0.615],[0.182,0.618],[-1.177,0.589],[-0.198,0.579],[-0.129,0.581],[0.479,0.567],[0.542,0.574],[-0.652,0.552],[-0.495,0.537],[-0.580,0.504],[0.215,0.522],[0.231,0.482],[-0.363,0.464],[-0.330,0.470],[-0.688,0.453],[-0.490,0.444],[0.520,0.464],[0.567,0.422],[0.195,0.436],[0.292,0.420],[-0.228,0.396],[-0.047,0.378],[0.066,0.397],[0.253,0.370],[0.217,0.354],[-0.622,0.360],[-0.575,0.329],[-0.630,0.301],[1.059,0.343],[-0.184,0.311],[-0.195,0.296],[0.275,0.303],[0.451,0.294],[0.597,0.304],[0.649,0.306],[0.674,0.261],[1.095,0.292],[1.122,0.287],[0.886,0.275],[0.864,0.253],[0.875,0.204],[-1.144,0.258],[-0.877,0.261],[0.121,0.224],[0.297,0.225],[0.041,0.189],[0.105,0.191],[0.393,0.203],[-0.127,0.174],[0.195,0.160],[0.220,0.167],[0.352,0.166],[0.561,0.174],[-0.292,0.140],[0.066,0.137],[-0.316,0.084],[-0.281,0.084],[-0.311,0.065],[-0.168,0.088],[-0.094,0.071],[-0.116,0.056],[-0.250,0.037],[-0.176,0.030],[0.239,0.075],[0.605,0.090],[0.539,0.061],[1.042,0.076],[1.205,0.067],[1.199,0.009],[-1.161,-0.011],[-1.089,-0.009],[-0.674,-0.017],[-0.314,0.000],[-0.116,-0.006],[-0.008,-0.015],[0.025,-0.030],[0.154,-0.028],[0.352,-0.006],[0.800,-0.009],[1.213,-0.039],[-0.176,-0.030],
[-0.366,-0.071],[-0.187,-0.074],[-0.143,-0.064],[0.006,-0.058],[0.286,-0.074],[0.550,-0.096],[0.578,-0.064],[0.635,-0.071],[0.814,-0.055],[0.883,-0.058],[0.957,-0.082],[0.960,-0.127],[-0.883,-0.106],[-0.099,-0.105],[-0.776,-0.146],[-0.759,-0.152],[-0.891,-0.207],[-0.660,-0.209],[-0.267,-0.165],[-0.270,-0.219],[0.099,-0.171],[0.140,-0.184],[0.154,-0.197],[0.215,-0.197],[0.248,-0.168],[0.270,-0.200],[0.360,-0.175],[0.371,-0.200],[0.355,-0.241],[0.462,-0.241],[0.578,-0.181],[0.655,-0.171],[0.690,-0.165],[0.616,-0.215],[0.624,-0.222],[1.056,-0.247],[-1.210,-0.257],[-1.177,-0.276],[-0.792,-0.272],[-0.613,-0.275],[-0.413,-0.293],[-0.355,-0.344],[-0.006,-0.237],[-0.025,-0.268],[0.242,-0.304],[0.311,-0.341],[-0.182,-0.343],[-0.033,-0.339],[0.011,-0.341],[0.077,-0.363],[0.256,-0.367],[-0.058,-0.383],[-0.451,-0.406],[-0.226,-0.414],[-0.168,-0.442],[-0.099,-0.442],[0.127,-0.427],[0.473,-0.442],[0.682,-0.411],[0.910,-0.382],[0.836,-0.452],[-1.216,-0.461],[-1.073,-0.501],[-0.795,-0.511],[-0.666,-0.477],[-0.028,-0.518],[0.190,-0.501],[0.248,-0.469],[0.289,-0.491],[0.289,-0.524],[0.297,-0.530],[0.492,-0.490],[0.448,-0.528],[0.473,-0.540],[0.715,-0.520],[1.026,-0.508],[-0.767,-0.581],[-0.745,-0.571],[0.723,-0.581],[-0.377,-0.616],[-0.388,-0.651],[-0.289,-0.654],[-0.275,-0.661],[-0.217,-0.631],[-0.187,-0.613],[-0.140,-0.601],[-0.132,-0.631],[-0.055,-0.596],[0.050,-0.627],[0.462,-0.644],[0.220,-0.684],[0.283,-0.684],[-0.701,-0.702],[-0.382,-0.703],[-0.319,-0.712],[-0.116,-0.729],[-0.712,-0.764],[-0.468,-0.754],[-0.355,-0.780],[-0.289,-0.770],[-0.157,-0.788],[0.193,-0.748],[-0.237,-0.824],[-0.773,-0.822],[0.052,-0.810],[0.135,-0.830],[0.143,-0.878],[0.503,-0.853],[0.492,-0.883],[0.770,-0.795],[0.776,-0.883],[0.880,-0.868],[-0.443,-0.878],[-0.143,-0.924],[-0.110,-0.948],[-1.196,-0.953],[0.039,-1.042],[0.294,-1.084],[0.902,-1.019]
];

// the centre rows as [x, y] pairs for the scatter series
const sampleInCore = [];
sampleCoreRows.forEach(function (row) {
  for (let i = 1; i < row.length; i++) sampleInCore.push([row[i], row[0]]);
});

const chart = echarts.init(document.getElementById('c'), null, {renderer: 'canvas'});

const P1 = {left: 86, top: 171, width: 1306, height: 1600};
const P2 = {left: 1803, top: 171, width: 1306, height: 1600};
const STRIP_H = 70;

function axis(gridIndex, position, min, max, ticks, offset) {
  return {
    type: 'value', gridIndex: gridIndex, position: position, min: min, max: max, offset: offset || 0,
    splitLine: {show: false},
    axisLine: {show: true, onZero: false, lineStyle: {color: '#000', width: 3}},
    axisTick: {show: true, inside: false, length: 29, customValues: ticks, lineStyle: {color: '#000', width: 3}},
    axisLabel: {show: false, customValues: ticks}
  };
}
function pts(data, color, xi, yi) {
  return {
    type: 'scatter', xAxisIndex: xi, yAxisIndex: yi, data: data,
    symbol: 'circle', symbolSize: 22.4, silent: true, animation: false,
    progressive: 0, large: false,
    itemStyle: {color: 'rgba(0,0,0,0)', borderColor: color, borderWidth: 2.6, opacity: 1},
    emphasis: {disabled: true}
  };
}
function strip(p, label) {
  return [
    {type: 'rect', z: 1, shape: {x: p.left, y: p.top - STRIP_H, width: p.width, height: STRIP_H},
     style: {fill: '#f2f2f2', stroke: '#000', lineWidth: 3}},
    {type: 'text', z: 5, x: p.left + p.width / 2, y: p.top - STRIP_H / 2 + 7,
     style: {text: label, fill: '#000', font: '57px "Liberation Sans", Arial, sans-serif', textAlign: 'center', textVerticalAlign: 'middle'}}
  ];
}

chart.setOption({
  animation: false,
  backgroundColor: '#fff',
  grid: [
    Object.assign({show: true, borderColor: '#000', borderWidth: 3, backgroundColor: 'transparent'}, P1),
    Object.assign({show: true, borderColor: '#000', borderWidth: 3, backgroundColor: 'transparent'}, P2)
  ],
  xAxis: [
    axis(0, 'bottom', -1.905, 2.225, sampleTicksX),
    axis(0, 'top', -1.905, 2.225, sampleTicksX, STRIP_H),
    axis(1, 'bottom', -1.811, 2.241, subTicksX),
    axis(1, 'top', -1.811, 2.241, subTicksX, STRIP_H)
  ],
  yAxis: [
    axis(0, 'left', -2.282, 2.230, sampleTicksY),
    axis(0, 'right', -2.282, 2.230, sampleTicksY),
    axis(1, 'left', -1.834, 1.680, subTicksY),
    axis(1, 'right', -1.834, 1.680, subTicksY)
  ],
  graphic: strip(P1, 'Sample').concat(strip(P2, 'Subsample')),
  series: [
    pts(sampleInTop, '#000000', 0, 0),
    pts(sampleInFlank, '#000000', 0, 0),
    pts(sampleInFill, '#000000', 0, 0),
    pts(sampleInCore, '#000000', 0, 0),
    pts(sampleInBottom, '#000000', 0, 0),
    pts(sampleOut, '#ff0000', 0, 0),
    pts(subIn, '#000000', 2, 2),
    pts(subOut, '#ff0000', 2, 2)
  ]
});
</script>
</body>
</html>
